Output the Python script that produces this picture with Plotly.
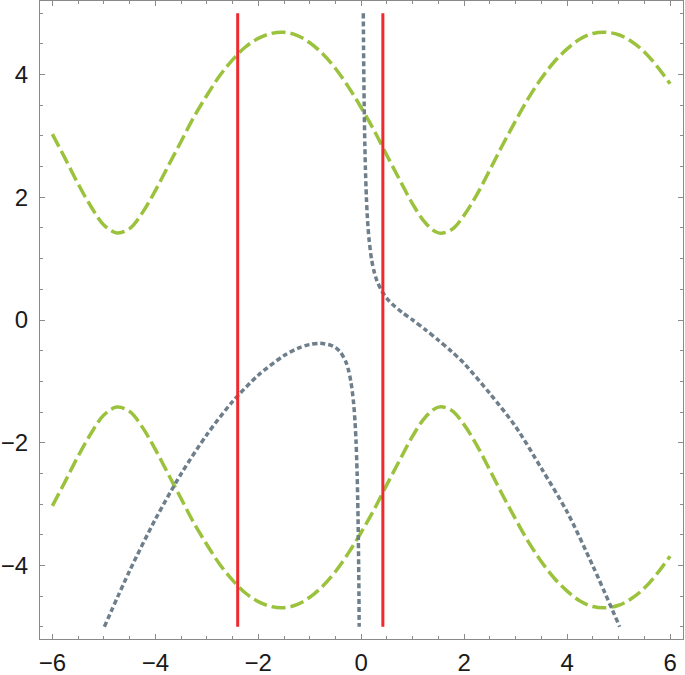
import plotly.graph_objects as go

# ---- data ----
green_x = [-6, -5.75, -5.5, -5.25, -5, -4.75, -4.5, -4.25, -4, -3.75, -3.5, -3.25, -3,
           -2.75, -2.5, -2.25, -2, -1.75, -1.5, -1.25, -1, -0.75, -0.5, -0.25, 0,
           0.25, 0.5, 0.75, 1, 1.25, 1.5, 1.75, 2, 2.25, 2.5, 2.75, 3, 3.25, 3.5,
           3.75, 4, 4.25, 4.5, 4.75, 5, 5.25, 5.5, 5.75, 6]
green_upper = [3.03, 2.63, 2.22, 1.85, 1.55, 1.42, 1.49, 1.75, 2.11, 2.51, 2.91, 3.31, 3.66,
               3.98, 4.24, 4.45, 4.59, 4.67, 4.69, 4.64, 4.52, 4.34, 4.10, 3.80, 3.46,
               3.09, 2.68, 2.28, 1.89, 1.58, 1.42, 1.47, 1.71, 2.05, 2.45, 2.86, 3.25, 3.62, 3.94,
               4.21, 4.42, 4.58, 4.67, 4.69, 4.65, 4.54, 4.37, 4.13, 3.85]
green_lower = [-3.03, -2.63, -2.22, -1.85, -1.55, -1.42, -1.49, -1.75, -2.11, -2.51, -2.91, -3.31, -3.66,
               -3.98, -4.24, -4.45, -4.59, -4.67, -4.69, -4.64, -4.52, -4.34, -4.10, -3.80, -3.46,
               -3.09, -2.68, -2.28, -1.89, -1.58, -1.42, -1.47, -1.71, -2.05, -2.45, -2.86, -3.25, -3.62, -3.94,
               -4.21, -4.42, -4.58, -4.67, -4.69, -4.65, -4.54, -4.37, -4.13, -3.85]

gray_left_x = [-4.99, -4.5, -4.0, -3.5, -3.0, -2.5, -2.0, -1.5, -1.2, -1.0, -0.8, -0.6, -0.5,
               -0.4, -0.3, -0.25, -0.2, -0.15, -0.12, -0.1, -0.08, -0.07, -0.06, -0.05, -0.045, -0.04]
gray_left_y = [-5.0, -4.09, -3.25, -2.51, -1.87, -1.33, -0.90, -0.58, -0.45, -0.40, -0.38, -0.41, -0.45,
               -0.53, -0.68, -0.81, -1.01, -1.34, -1.67, -2.00, -2.50, -2.86, -3.33, -4.00, -4.44, -5.0]

gray_right_x = [0.04, 0.045, 0.05, 0.06, 0.07, 0.08, 0.1, 0.12, 0.15, 0.2, 0.25, 0.3, 0.4, 0.5,
                0.6, 0.8, 1.0, 1.25, 1.5, 1.75, 2.0, 2.5, 3.0, 3.5, 4.0, 4.5, 5.02]
gray_right_y = [5.0, 4.44, 4.00, 3.33, 2.86, 2.50, 2.00, 1.66, 1.33, 0.99, 0.79, 0.65, 0.47, 0.35,
                0.26, 0.12, 0.0, -0.16, -0.33, -0.51, -0.71, -1.20, -1.74, -2.42, -3.13, -4.01, -5.0]

red_x = [-2.40, 0.42]
red_y_span = [-5, 5]

x_ticks = [-6, -4, -2, 0, 2, 4, 6]
y_ticks = [-4, -2, 0, 2, 4]

GREEN = "#9BC23C"
GRAY = "#6E7F8B"
RED = "#EE2A2E"

fig = go.Figure()
for gy in (green_upper, green_lower):
    fig.add_trace(go.Scatter(x=green_x, y=gy, mode="lines",
                             line=dict(color=GREEN, width=3.5, dash="14px,5px", shape="spline"),
                             hoverinfo="skip"))
for gxs, gys in ((gray_left_x, gray_left_y), (gray_right_x, gray_right_y)):
    fig.add_trace(go.Scatter(x=gxs, y=gys, mode="lines",
                             line=dict(color=GRAY, width=3.5, dash="5px,3px", shape="spline", smoothing=0.8),
                             hoverinfo="skip"))
for rx in red_x:
    fig.add_trace(go.Scatter(x=[rx, rx], y=red_y_span, mode="lines",
                             line=dict(color=RED, width=3), hoverinfo="skip"))

axis_common = dict(
    showgrid=False, zeroline=False, showline=True, linecolor="#8a8a8a", linewidth=1,
    mirror="allticks", ticks="inside", ticklen=5, tickwidth=1, tickcolor="#8a8a8a",
    tickfont=dict(family="Liberation Sans, Arial, sans-serif", size=24, color="#1a1a1a"),
    minor=dict(dtick=0.5, ticks="inside", ticklen=3, tickcolor="#8a8a8a", tickwidth=1),
    automargin=False,
)
fig.update_xaxes(range=[-6.24, 6.25], tickvals=x_ticks, ticklabelstandoff=2, **axis_common)
fig.update_yaxes(range=[-5.2, 5.2], tickvals=y_ticks, ticklabelstandoff=6, **axis_common)

fig.update_layout(
    width=685, height=675, showlegend=False,
    margin=dict(l=40, r=2, t=1, b=36),
    paper_bgcolor="white", plot_bgcolor="white",
)
fig.write_html("out.html", config={"displayModeBar": False},
               post_script="document.body.style.margin='0';")
